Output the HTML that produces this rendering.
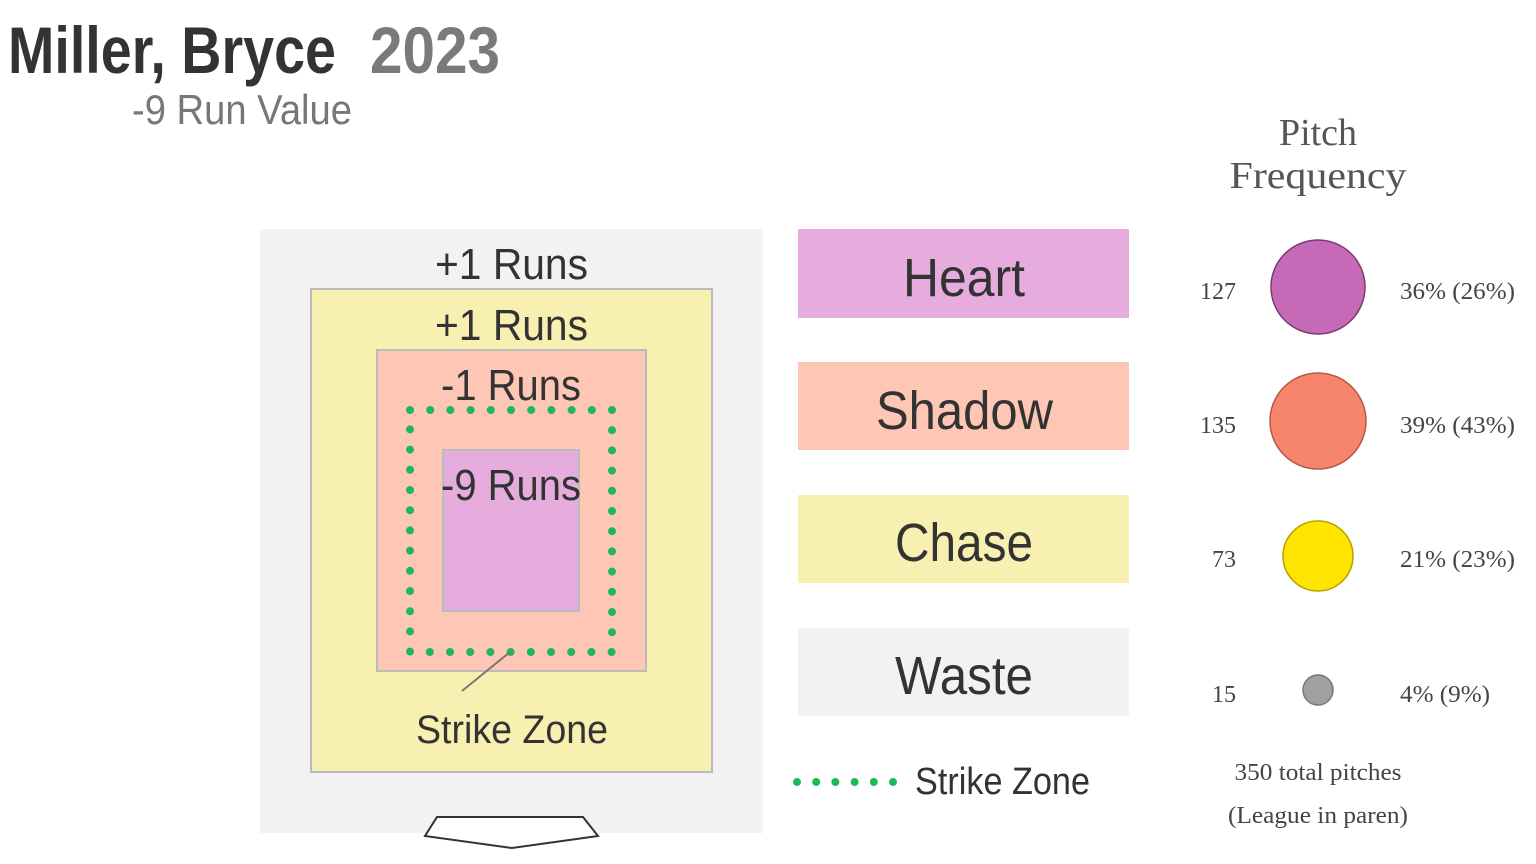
<!DOCTYPE html>
<html><head><meta charset="utf-8"><style>html,body{margin:0;padding:0;background:#fff;width:1536px;height:864px;overflow:hidden}</style></head>
<body>
<svg width="1536" height="864" viewBox="0 0 1536 864" xmlns="http://www.w3.org/2000/svg" font-family="Liberation Sans, sans-serif">
<text x="8" y="73" font-size="66" font-weight="bold" fill="#333" textLength="328" lengthAdjust="spacingAndGlyphs">Miller, Bryce</text>
<text x="370" y="73" font-size="66" font-weight="bold" fill="#7a7a7a" textLength="130" lengthAdjust="spacingAndGlyphs">2023</text>
<text x="132" y="124" font-size="42" fill="#777" textLength="220" lengthAdjust="spacingAndGlyphs">-9 Run Value</text>

<rect x="260" y="229" width="503" height="604" fill="#f2f2f2"/>
<rect x="311" y="289" width="401" height="483" fill="#f8f0b0" stroke="#bbb" stroke-width="2"/>
<rect x="377" y="350" width="269" height="321" fill="#fec6b4" stroke="#bbb" stroke-width="2"/>
<rect x="443" y="450" width="136" height="161" fill="#e6acdd" stroke="#bbb" stroke-width="2"/>
<g font-size="44" fill="#333">
<text x="435" y="279" textLength="153" lengthAdjust="spacingAndGlyphs">+1 Runs</text>
<text x="435" y="340" textLength="153" lengthAdjust="spacingAndGlyphs">+1 Runs</text>
<text x="441" y="400" textLength="140" lengthAdjust="spacingAndGlyphs">-1 Runs</text>
<text x="441" y="500" textLength="140" lengthAdjust="spacingAndGlyphs">-9 Runs</text>
<text x="416" y="743" font-size="40" textLength="192" lengthAdjust="spacingAndGlyphs">Strike Zone</text>
</g>
<rect x="410" y="410" width="202" height="242" fill="none" stroke="#1db954" stroke-width="8" stroke-linecap="round" stroke-dasharray="0 20.2"/>
<line x1="510" y1="652" x2="462" y2="691" stroke="#777" stroke-width="2"/>
<polygon points="437,817 583,817 598,836 512,848 425,836" fill="#fff" stroke="#333" stroke-width="2"/>

<rect x="798" y="229" width="331" height="89" fill="#e6acdd"/>
<rect x="798" y="362" width="331" height="88" fill="#fec6b4"/>
<rect x="798" y="495" width="331" height="88" fill="#f8f0b0"/>
<rect x="798" y="628" width="331" height="88" fill="#f2f2f2"/>
<g font-size="54" fill="#333">
<text x="903" y="296" textLength="122" lengthAdjust="spacingAndGlyphs">Heart</text>
<text x="876" y="429" textLength="177" lengthAdjust="spacingAndGlyphs">Shadow</text>
<text x="895" y="561" textLength="138" lengthAdjust="spacingAndGlyphs">Chase</text>
<text x="895" y="694" textLength="138" lengthAdjust="spacingAndGlyphs">Waste</text>
</g>
<line x1="797" y1="782" x2="900" y2="782" stroke="#1db954" stroke-width="8" stroke-linecap="round" stroke-dasharray="0 19.2"/>
<text x="915" y="794" font-size="38" fill="#333" textLength="175" lengthAdjust="spacingAndGlyphs">Strike Zone</text>

<g font-family="Liberation Serif, serif" fill="#555">
<text x="1318" y="145" font-size="38" text-anchor="middle">Pitch</text>
<text x="1318" y="188" font-size="38" text-anchor="middle" textLength="177" lengthAdjust="spacingAndGlyphs">Frequency</text>
<g font-size="24" fill="#444">
<text x="1236" y="299" text-anchor="end">127</text>
<text x="1236" y="433" text-anchor="end">135</text>
<text x="1236" y="567" text-anchor="end">73</text>
<text x="1236" y="702" text-anchor="end">15</text>
<text x="1400" y="299" textLength="115" lengthAdjust="spacingAndGlyphs">36% (26%)</text>
<text x="1400" y="433" textLength="115" lengthAdjust="spacingAndGlyphs">39% (43%)</text>
<text x="1400" y="567" textLength="115" lengthAdjust="spacingAndGlyphs">21% (23%)</text>
<text x="1400" y="702" textLength="90" lengthAdjust="spacingAndGlyphs">4% (9%)</text>
<text x="1318" y="780" text-anchor="middle" textLength="167" lengthAdjust="spacingAndGlyphs">350 total pitches</text>
<text x="1318" y="823" text-anchor="middle" textLength="180" lengthAdjust="spacingAndGlyphs">(League in paren)</text>
</g>
</g>
<circle cx="1318" cy="287" r="47" fill="#c66ab8" stroke="#7a3a6e" stroke-width="1.5"/>
<circle cx="1318" cy="421" r="48" fill="#f7856b" stroke="#b55a48" stroke-width="1.5"/>
<circle cx="1318" cy="556" r="35" fill="#ffe400" stroke="#b8a000" stroke-width="1.5"/>
<circle cx="1318" cy="690" r="15" fill="#a0a0a0" stroke="#777" stroke-width="1.5"/>
</svg>
</body></html>
